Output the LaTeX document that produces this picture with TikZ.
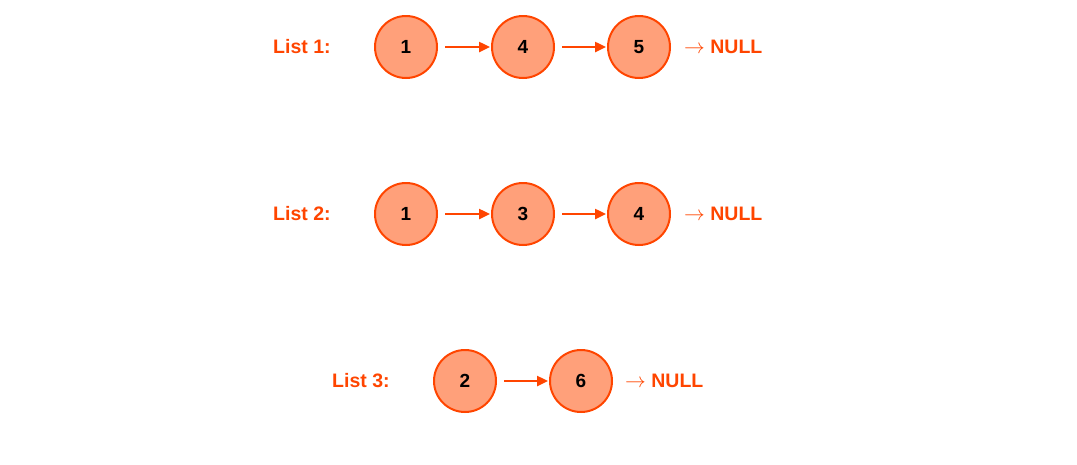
\documentclass[tikz,border=0pt]{standalone}
\usepackage{fontspec}
\setmainfont{Liberation Sans}
\usetikzlibrary{arrows.meta}
\definecolor{edge}{HTML}{FF4500}
\definecolor{fillc}{HTML}{FFA07A}
\begin{document}
\begin{tikzpicture}[x=1pt,y=-1pt,
  lnode/.style={circle,draw=edge,fill=fillc,line width=2pt,minimum size=62pt,inner sep=0pt,font=\fontsize{19}{22}\selectfont\bfseries},
  lbl/.style={anchor=west,text=edge,inner sep=0pt,font=\fontsize{19.5}{22}\selectfont\bfseries},
  nul/.style={anchor=west,text=edge,inner sep=0pt,font=\fontsize{19.5}{22}\selectfont\bfseries},
  link/.style={draw=edge,line width=2.4pt,-{Triangle[length=11pt,width=10pt]},shorten <=7pt,shorten >=1pt}]
\useasboundingbox (0,0) rectangle (1077,464);
% List 1
\node[lbl] (l1) at (273,47) {List 1:};
\node[lnode] (a1) at (406,47) {1};
\node[lnode] (a2) at (523,47) {4};
\node[lnode] (a3) at (639,47) {5};
\node[nul] (n1) at (684,47) {$\rightarrow$ NULL};
\draw[link] (a1) -- (a2);
\draw[link] (a2) -- (a3);
% List 2
\node[lbl] (l2) at (273,214) {List 2:};
\node[lnode] (b1) at (406,214) {1};
\node[lnode] (b2) at (523,214) {3};
\node[lnode] (b3) at (639,214) {4};
\node[nul] (n2) at (684,214) {$\rightarrow$ NULL};
\draw[link] (b1) -- (b2);
\draw[link] (b2) -- (b3);
% List 3
\node[lbl] (l3) at (332,381) {List 3:};
\node[lnode] (c1) at (465,381) {2};
\node[lnode] (c2) at (581,381) {6};
\node[nul] (n3) at (625,381) {$\rightarrow$ NULL};
\draw[link] (c1) -- (c2);
\end{tikzpicture}
\end{document}
